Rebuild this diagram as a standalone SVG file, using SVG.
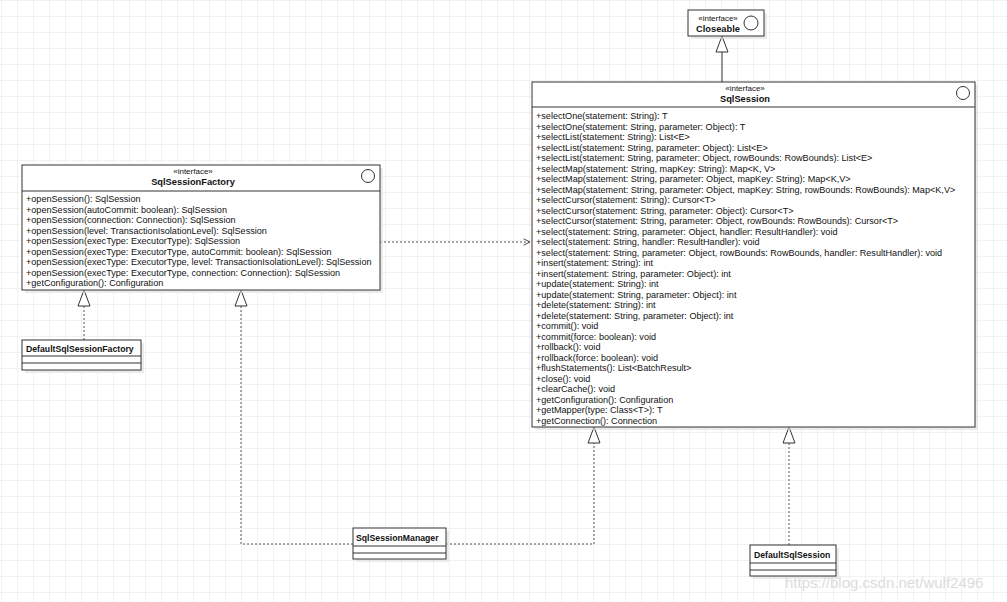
<svg xmlns="http://www.w3.org/2000/svg" width="1007" height="602" viewBox="0 0 1007 602">
<defs>
<pattern id="grid" width="16" height="16" patternUnits="userSpaceOnUse" x="1" y="0">
<path d="M16 0H0V16" fill="none" stroke="#e6e6e6" stroke-width="1"/>
</pattern>
<marker id="open" viewBox="0 0 10 10" refX="9" refY="5" markerWidth="8" markerHeight="8" orient="auto" markerUnits="userSpaceOnUse">
<path d="M1 1L9 5L1 9" fill="none" stroke="#444" stroke-width="1.2"/>
</marker>
</defs>
<style>
.box{fill:#fff;stroke:#333;stroke-width:1}
.sh{fill:#ddd;opacity:.6}
text{font-family:"Liberation Sans",Arial,sans-serif;font-size:9.1px;fill:#111}
.st{font-size:8px;text-anchor:middle}
.nm{font-weight:bold;font-size:9.3px;text-anchor:middle}
.nl{font-weight:bold;font-size:8.7px}
.wm{font-size:15px;fill:#dcdcdc}
.dv{stroke:#333;stroke-width:1}
.dot{fill:none;stroke:#555;stroke-width:1;stroke-dasharray:2 2}
.sol{fill:none;stroke:#333;stroke-width:1}
.tri{fill:#fff;stroke:#333;stroke-width:1}
.ci{fill:#fff;stroke:#333;stroke-width:1}
</style>
<rect width="1007" height="602" fill="#fff"/>
<rect width="1007" height="602" fill="url(#grid)"/>

<g id="connectors">
<line class="sol" x1="722" y1="52" x2="722" y2="82"/>
<polygon class="tri" points="722,36 716,52 728,52"/>
<path class="dot" d="M380 242H530" marker-end="url(#open)"/>
<line class="dot" x1="84" y1="306" x2="84" y2="340"/>
<polygon class="tri" points="84,290 78,306 90,306"/>
<path class="dot" d="M241 306V544H353"/>
<polygon class="tri" points="241,290 235,306 247,306"/>
<path class="dot" d="M446 544H594V443"/>
<polygon class="tri" points="594,427 588,443 600,443"/>
<line class="dot" x1="789" y1="443" x2="789" y2="545"/>
<polygon class="tri" points="789,427 783,443 795,443"/>
</g>

<g id="Closeable">
<rect class="sh" x="691" y="13" width="76" height="26"/>
<rect class="box" x="688" y="10" width="76" height="26"/>
<text class="st" x="718" y="21">«interface»</text>
<text class="nm" x="718" y="32">Closeable</text>
<circle class="ci" cx="751" cy="23" r="7"/>
</g>

<g id="SqlSession">
<rect class="sh" x="535" y="85" width="443" height="345"/>
<rect class="box" x="532" y="82" width="443" height="345"/>
<text class="st" x="745" y="91">«interface»</text>
<text class="nm" x="745" y="102">SqlSession</text>
<circle class="ci" cx="963" cy="93" r="6.5"/>
<line class="dv" x1="532" y1="107" x2="975" y2="107"/>
<g transform="translate(536,0)">
<text y="119">+selectOne(statement: String): T</text>
<text y="129.5">+selectOne(statement: String, parameter: Object): T</text>
<text y="140">+selectList(statement: String): List&lt;E&gt;</text>
<text y="150.5">+selectList(statement: String, parameter: Object): List&lt;E&gt;</text>
<text y="161">+selectList(statement: String, parameter: Object, rowBounds: RowBounds): List&lt;E&gt;</text>
<text y="171.5">+selectMap(statement: String, mapKey: String): Map&lt;K, V&gt;</text>
<text y="182">+selectMap(statement: String, parameter: Object, mapKey: String): Map&lt;K,V&gt;</text>
<text y="192.5">+selectMap(statement: String, parameter: Object, mapKey: String, rowBounds: RowBounds): Map&lt;K,V&gt;</text>
<text y="203">+selectCursor(statement: String): Cursor&lt;T&gt;</text>
<text y="213.5">+selectCursor(statement: String, parameter: Object): Cursor&lt;T&gt;</text>
<text y="224">+selectCursor(statement: String, parameter: Object, rowBounds: RowBounds): Cursor&lt;T&gt;</text>
<text y="234.5">+select(statement: String, parameter: Object, handler: ResultHandler): void</text>
<text y="245">+select(statement: String, handler: ResultHandler): void</text>
<text y="255.5">+select(statement: String, parameter: Object, rowBounds: RowBounds, handler: ResultHandler): void</text>
<text y="266">+insert(statement: String): int</text>
<text y="276.5">+insert(statement: String, parameter: Object): int</text>
<text y="287">+update(statement: String): int</text>
<text y="297.5">+update(statement: String, parameter: Object): int</text>
<text y="308">+delete(statement: String): int</text>
<text y="318.5">+delete(statement: String, parameter: Object): int</text>
<text y="329">+commit(): void</text>
<text y="339.5">+commit(force: boolean): void</text>
<text y="350">+rollback(): void</text>
<text y="360.5">+rollback(force: boolean): void</text>
<text y="371">+flushStatements(): List&lt;BatchResult&gt;</text>
<text y="381.5">+close(): void</text>
<text y="392">+clearCache(): void</text>
<text y="402.5">+getConfiguration(): Configuration</text>
<text y="413">+getMapper(type: Class&lt;T&gt;): T</text>
<text y="423.5">+getConnection(): Connection</text>
</g>
</g>

<g id="SqlSessionFactory">
<rect class="sh" x="25" y="168" width="358" height="125"/>
<rect class="box" x="22" y="165" width="358" height="125"/>
<text class="st" x="193" y="174">«interface»</text>
<text class="nm" x="193" y="185">SqlSessionFactory</text>
<circle class="ci" cx="368" cy="176" r="6.5"/>
<line class="dv" x1="22" y1="191" x2="380" y2="191"/>
<g transform="translate(26,0)">
<text y="202">+openSession(): SqlSession</text>
<text y="212.5">+openSession(autoCommit: boolean): SqlSession</text>
<text y="223">+openSession(connection: Connection): SqlSession</text>
<text y="233.5">+openSession(level: TransactionIsolationLevel): SqlSession</text>
<text y="244">+openSession(execType: ExecutorType): SqlSession</text>
<text y="254.5">+openSession(execType: ExecutorType, autoCommit: boolean): SqlSession</text>
<text y="265">+openSession(execType: ExecutorType, level: TransactionIsolationLevel): SqlSession</text>
<text y="275.5">+openSession(execType: ExecutorType, connection: Connection): SqlSession</text>
<text y="286">+getConfiguration(): Configuration</text>
</g>
</g>

<g id="DefaultSqlSessionFactory">
<rect class="sh" x="25" y="343" width="119" height="30"/>
<rect class="box" x="22" y="340" width="119" height="30"/>
<line class="dv" x1="22" y1="356" x2="141" y2="356"/>
<line class="dv" x1="22" y1="363" x2="141" y2="363"/>
<text class="nl" x="26" y="352">DefaultSqlSessionFactory</text>
</g>

<g id="SqlSessionManager">
<rect class="sh" x="356" y="531" width="93" height="31"/>
<rect class="box" x="353" y="528" width="93" height="31"/>
<line class="dv" x1="353" y1="546" x2="446" y2="546"/>
<line class="dv" x1="353" y1="553" x2="446" y2="553"/>
<text class="nl" x="356" y="541">SqlSessionManager</text>
</g>

<g id="DefaultSqlSession">
<rect class="sh" x="753" y="548" width="86" height="31"/>
<rect class="box" x="750" y="545" width="86" height="31"/>
<line class="dv" x1="750" y1="563" x2="836" y2="563"/>
<line class="dv" x1="750" y1="570" x2="836" y2="570"/>
<text class="nl" x="754" y="558">DefaultSqlSession</text>
</g>

<text class="wm" x="785" y="588">https://blog.csdn.net/wulf2496</text>
</svg>
